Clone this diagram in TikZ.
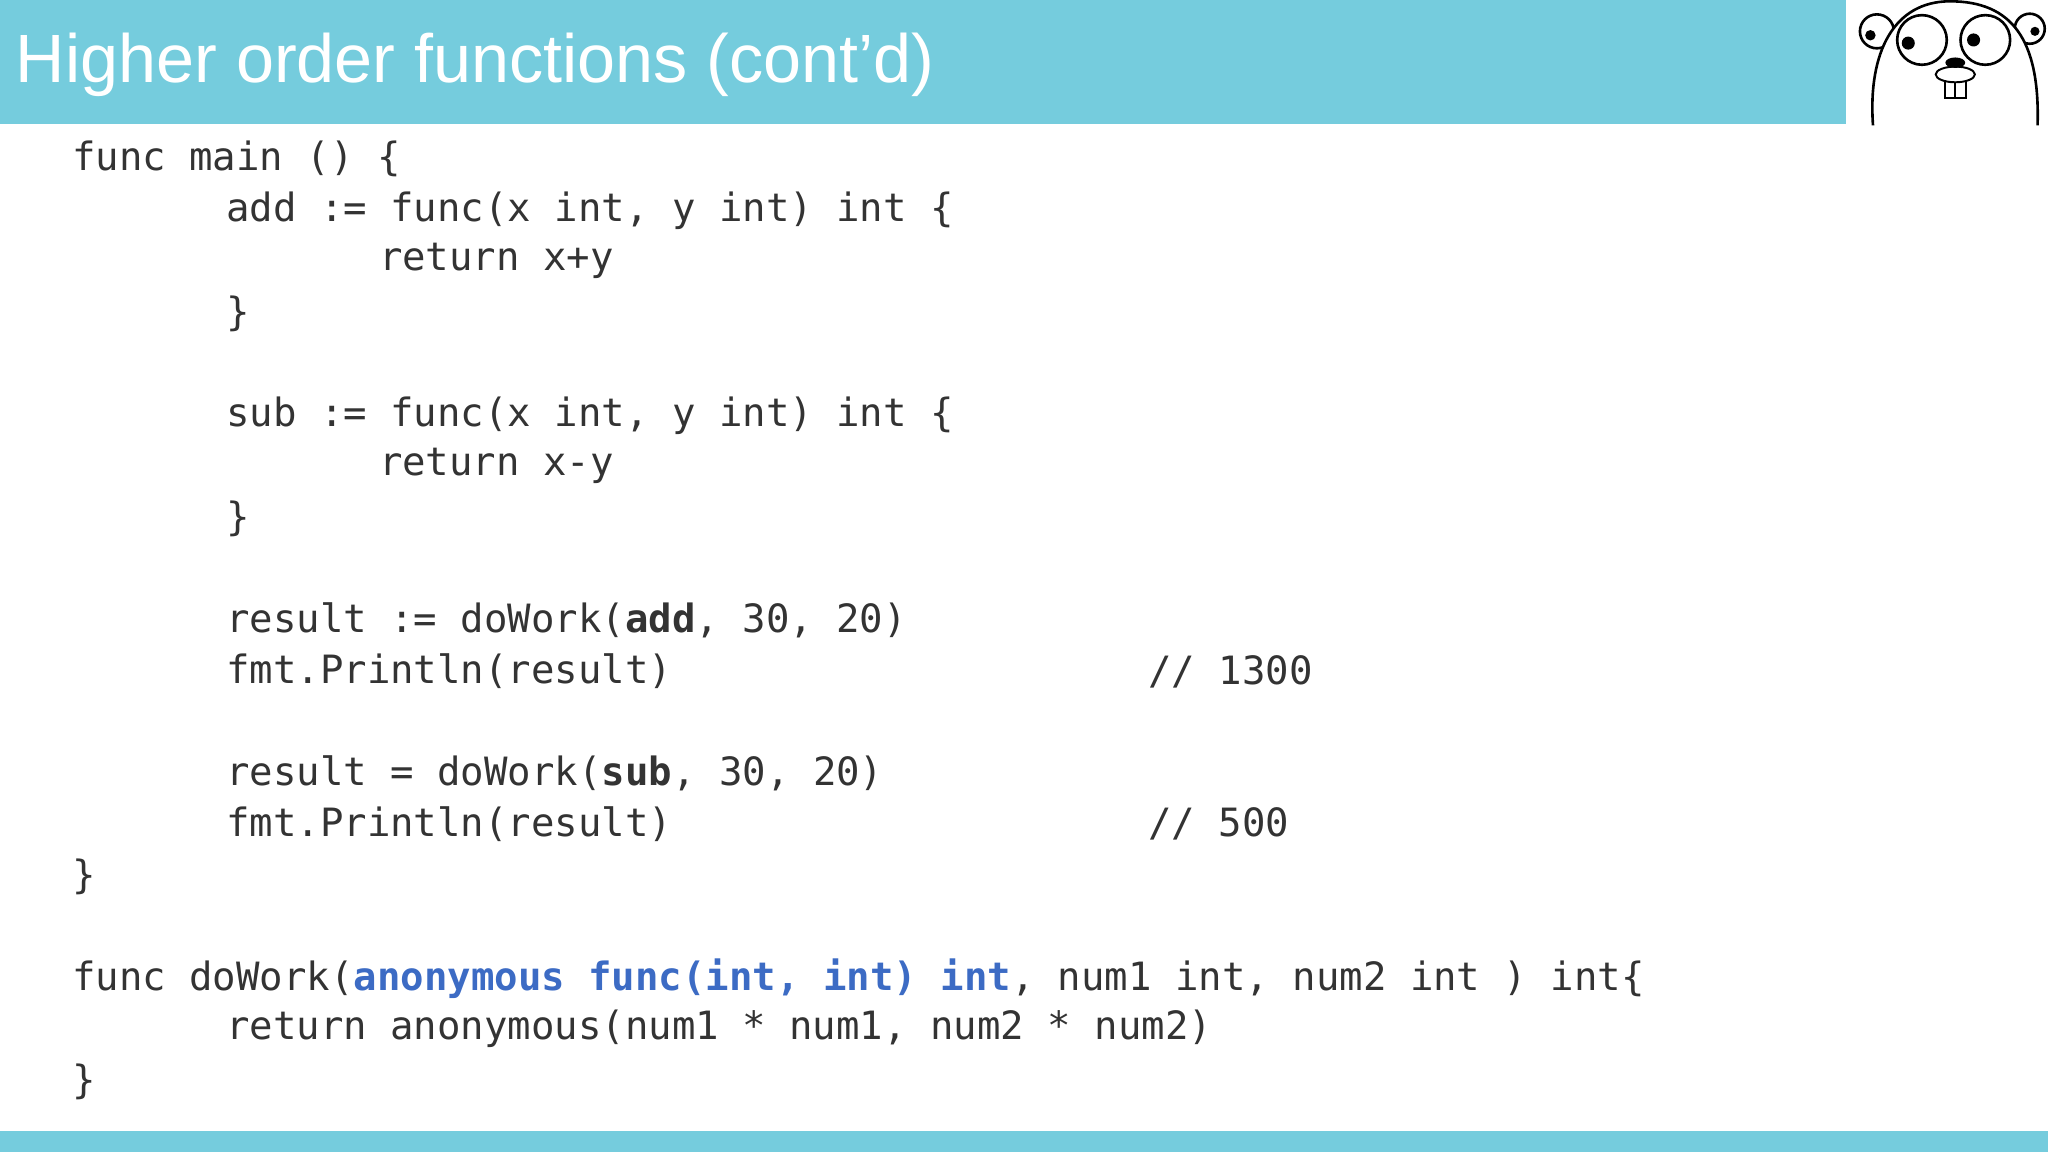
\documentclass[tikz,border=0pt]{standalone}
\usepackage{fontspec}
\setmainfont{Liberation Sans}
\newfontfamily\codefont{DejaVu Sans Mono}
\definecolor{band}{HTML}{75CCDD}
\definecolor{kw}{HTML}{3C6BC4}
\begin{document}
\begin{tikzpicture}[x=1pt,y=-1pt,
  code/.style={anchor=west,inner sep=0pt,font=\codefont\fontsize{29.85}{34}\selectfont,text=black!80},
  gline/.style={line width=2pt,draw=black}]
\useasboundingbox (0,0) rectangle (1568,882);
\fill[band] (0,0) rectangle (1413,95);
\fill[band] (0,866) rectangle (1568,882);
\node[anchor=west,inner sep=0pt,text=white,font=\fontsize{52.3}{60}\selectfont] (title) at (12,50) {Higher order functions (cont’d)};
% gopher
\begin{scope}[gline]
\draw[fill=white] (1437,24) circle (13);
\fill (1432,27) circle (4);
\draw[fill=white] (1554,22) circle (11.5);
\fill (1558,24) circle (3.5);
\draw[fill=white] (1434,96) .. controls (1430,40) and (1450,1) .. (1493,1) .. controls (1540,1) and (1562,30) .. (1560,96);
\draw (1471.5,30.6) circle (19);
\fill (1461,33) circle (5);
\draw (1520,30.6) circle (19);
\fill (1511,30.6) circle (5);
\draw[line width=1.5pt] (1489,62) rectangle (1497,75);
\draw[line width=1.5pt] (1497,62) rectangle (1505,75);
\draw[fill=white,line width=1.5pt] (1497,57) ellipse (15 and 6);
\fill (1497,48) ellipse (7.6 and 4);
\end{scope}
% code
\node[code] (l1) at (55,122) {func main () \{};
\node[code] (l2) at (173,161) {add := func(x int, y int) int \{};
\node[code] (l3) at (290,200) {return x+y};
\node[code] (l4) at (173,240) {\}};
\node[code] (l5) at (173,318) {sub := func(x int, y int) int \{};
\node[code] (l6) at (290,357) {return x-y};
\node[code] (l7) at (173,397) {\}};
\node[code] (l8) at (173,475) {result := doWork(\textbf{add}, 30, 20)};
\node[code] (l9) at (173,514) {fmt.Println(result)};
\node[code] (c1) at (879,514) {// 1300};
\node[code] (l10) at (173,592) {result = doWork(\textbf{sub}, 30, 20)};
\node[code] (l11) at (173,631) {fmt.Println(result)};
\node[code] (c2) at (879,631) {// 500};
\node[code] (l12) at (55,671) {\}};
\node[code] (l13) at (55,749) {func doWork(\textcolor{kw}{\textbf{anonymous func(int, int) int}}, num1 int, num2 int ) int\{};
\node[code] (l14) at (173,788) {return anonymous(num1 * num1, num2 * num2)};
\node[code] (l15) at (55,828) {\}};
\end{tikzpicture}
\end{document}
